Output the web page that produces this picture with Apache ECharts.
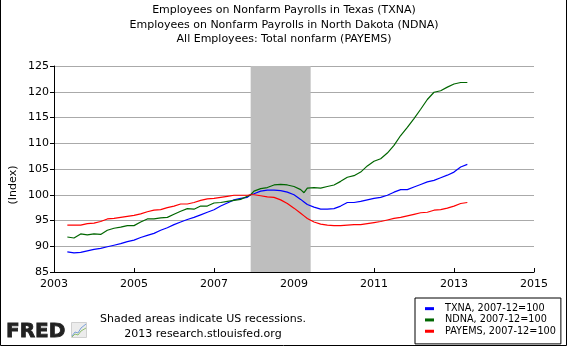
<!DOCTYPE html>
<html>
<head>
<meta charset="utf-8">
<script src="https://cdn.jsdelivr.net/npm/echarts@6/dist/echarts.min.js"></script>
<style>
html,body{margin:0;padding:0;background:#fff;}
#c{width:568px;height:346px;}
</style>
</head>
<body>
<div id="c"></div>
<script>
// ---- data ----
const titles = [
  'Employees on Nonfarm Payrolls in Texas (TXNA)',
  'Employees on Nonfarm Payrolls in North Dakota (NDNA)',
  'All Employees: Total nonfarm (PAYEMS)'
];
const seriesNames = ['TXNA, 2007-12=100', 'NDNA, 2007-12=100', 'PAYEMS, 2007-12=100'];
const seriesColors = ['#0000ff', '#006600', '#ff0000'];
const xTicks = [2003, 2005, 2007, 2009, 2011, 2013, 2015];
const yTicks = [85, 90, 95, 100, 105, 110, 115, 120, 125];
const recession = ['2007-12', '2009-06'];

const dates = [
  '2003-05','2003-07','2003-09','2003-11',
  '2004-01','2004-03','2004-05','2004-07','2004-09','2004-11',
  '2005-01','2005-03','2005-05','2005-07','2005-09','2005-11',
  '2006-01','2006-03','2006-05','2006-07','2006-09','2006-11',
  '2007-01','2007-03','2007-05','2007-07','2007-09','2007-11','2007-12',
  '2008-01','2008-03','2008-05','2008-07','2008-09','2008-11',
  '2009-01','2009-03','2009-04','2009-05','2009-07','2009-09','2009-11',
  '2010-01','2010-03','2010-05','2010-07','2010-09','2010-11',
  '2011-01','2011-03','2011-05','2011-07','2011-09','2011-11',
  '2012-01','2012-03','2012-05','2012-07','2012-09','2012-11',
  '2013-01','2013-03','2013-05'
];
const txna = [
  88.9,88.7,88.8,89.1,
  89.4,89.6,89.9,90.2,90.5,90.9,
  91.2,91.7,92.1,92.5,93.1,93.6,
  94.2,94.7,95.2,95.6,96.1,96.6,
  97.1,97.8,98.4,99.0,99.3,99.5,100.0,
  100.2,100.7,100.9,100.9,100.8,100.5,
  100.0,99.1,98.6,98.1,97.6,97.2,97.2,
  97.3,97.8,98.5,98.5,98.7,99.0,
  99.3,99.5,99.9,100.5,101.0,101.0,
  101.5,102.0,102.5,102.8,103.3,103.8,
  104.4,105.4,105.9
];
const ndna = [
  91.8,91.6,92.4,92.2,
  92.4,92.3,93.1,93.5,93.7,94.0,
  94.0,94.7,95.3,95.3,95.5,95.6,
  96.2,96.8,97.3,97.2,97.8,97.8,
  98.4,98.5,98.7,98.9,99.1,99.7,100.0,
  100.7,101.2,101.4,101.9,102.0,101.9,
  101.6,101.0,100.4,101.3,101.4,101.3,101.6,
  101.9,102.6,103.4,103.7,104.4,105.6,
  106.5,107.0,108.1,109.6,111.5,113.1,
  114.8,116.6,118.5,119.9,120.2,120.9,
  121.5,121.8,121.8
];
const payems = [
  94.1,94.1,94.1,94.4,
  94.5,94.8,95.3,95.4,95.6,95.8,
  96.0,96.3,96.7,97.0,97.1,97.5,
  97.8,98.2,98.2,98.5,98.9,99.2,
  99.3,99.5,99.7,99.9,99.9,99.9,100.0,
  100.0,99.8,99.6,99.5,99.0,98.3,
  97.4,96.4,95.9,95.4,94.7,94.3,94.1,
  94.0,94.0,94.1,94.2,94.2,94.4,
  94.6,94.8,95.1,95.4,95.6,95.9,
  96.2,96.5,96.6,97.0,97.1,97.4,
  97.8,98.3,98.5
];

// ---- build ----
function toYear(s) {
  const [y, m] = s.split('-').map(Number);
  return y + (m - 1) / 12;
}
function pairs(vals) { return dates.map((d, i) => [toYear(d), vals[i]]); }

const FONT = 'DejaVu Sans';
const chart = echarts.init(document.getElementById('c'), null, {renderer: 'canvas'});

const lineSeries = [txna, ndna, payems].map((vals, i) => ({
  name: seriesNames[i],
  type: 'line',
  data: pairs(vals),
  symbol: 'none',
  smooth: false,
  z: 3,
  lineStyle: {color: seriesColors[i], width: 1.2},
  itemStyle: {color: seriesColors[i]},
  emphasis: {disabled: true},
  animation: false
}));

const option = {
  animation: false,
  backgroundColor: '#fff',
  title: titles.map((t, i) => ({
    text: t,
    left: 'center',
    top: 5 + i * 14.5,
    padding: 0,
    textStyle: {fontFamily: FONT, fontSize: 11, fontWeight: 'normal', color: '#000'}
  })),
  grid: {left: 54, right: 34, top: 66, bottom: 74, containLabel: false},
  xAxis: {
    type: 'value',
    min: xTicks[0],
    max: xTicks[xTicks.length - 1],
    interval: 2,
    axisLine: {show: true, lineStyle: {color: '#000', width: 1}},
    axisTick: {show: true, inside: true, length: 4, lineStyle: {color: '#000'}},
    axisLabel: {fontFamily: FONT, fontSize: 11, color: '#000', margin: 7,
      formatter: v => String(Math.round(v))},
    splitLine: {show: false}
  },
  yAxis: {
    type: 'value',
    min: yTicks[0],
    max: yTicks[yTicks.length - 1],
    interval: 5,
    axisLine: {show: true, lineStyle: {color: '#000', width: 1}},
    axisTick: {show: true, inside: false, length: 4, lineStyle: {color: '#000'}},
    axisLabel: {fontFamily: FONT, fontSize: 11, color: '#000', margin: 5},
    splitLine: {show: true, lineStyle: {color: '#aaaaaa', width: 1}}
  },
  legend: {
    data: seriesNames,
    orient: 'vertical',
    left: 415,
    top: 298,
    padding: [5, 5, 7, 10],
    itemGap: 0,
    itemWidth: 9,
    itemHeight: 3,
    icon: 'rect',
    borderColor: '#000',
    borderWidth: 1,
    backgroundColor: '#fff',
    selectedMode: false,
    textStyle: {fontFamily: FONT, fontSize: 9.7, color: '#000', lineHeight: 11.3, padding: [0, 0, 0, 6]}
  },
  series: [
    {
      name: 'recession',
      type: 'line',
      data: [],
      z: 1,
      markArea: {
        silent: true,
        itemStyle: {color: '#bebebe'},
        data: [[{xAxis: toYear(recession[0])}, {xAxis: toYear(recession[1])}]]
      }
    },
    ...lineSeries
  ],
  graphic: [
    {type: 'polyline', shape: {points: [[0.5, 0], [0.5, 345.5], [566.5, 345.5], [566.5, 0]]},
      style: {stroke: '#000', fill: null, lineWidth: 1}, silent: true},
    {type: 'text', x: 13, y: 185, rotation: Math.PI / 2,
      style: {text: '(Index)', fontFamily: FONT, fontSize: 11, fill: '#000', align: 'center', verticalAlign: 'middle'}},
    {type: 'text', x: 203, y: 319.5,
      style: {text: 'Shaded areas indicate US recessions.', fontFamily: FONT, fontSize: 11, fill: '#000', align: 'center', verticalAlign: 'middle'}},
    {type: 'text', x: 203, y: 334.5,
      style: {text: '2013 research.stlouisfed.org', fontFamily: FONT, fontSize: 11, fill: '#000', align: 'center', verticalAlign: 'middle'}},
    {type: 'text', x: 6, y: 331.5,
      style: {text: 'FRED', fontFamily: FONT, fontSize: 20, fontWeight: 'bold', fill: '#222', align: 'left', verticalAlign: 'middle',
        stroke: '#222', lineWidth: 0.8}},
    {type: 'rect', shape: {x: 71.5, y: 322.5, width: 15, height: 15},
      style: {fill: '#ececec', stroke: '#d0d0d0', lineWidth: 1}},
    {type: 'polyline', shape: {points: [[72, 336], [75, 332], [78, 333], [81, 328], [86, 324]]},
      style: {stroke: '#7aa0d8', lineWidth: 1, fill: null}},
    {type: 'polyline', shape: {points: [[72, 337], [75, 334], [78, 335], [81, 331], [86, 328]]},
      style: {stroke: '#8fbf6f', lineWidth: 1, fill: null}}
  ]
};
chart.setOption(option);
</script>
</body>
</html>
